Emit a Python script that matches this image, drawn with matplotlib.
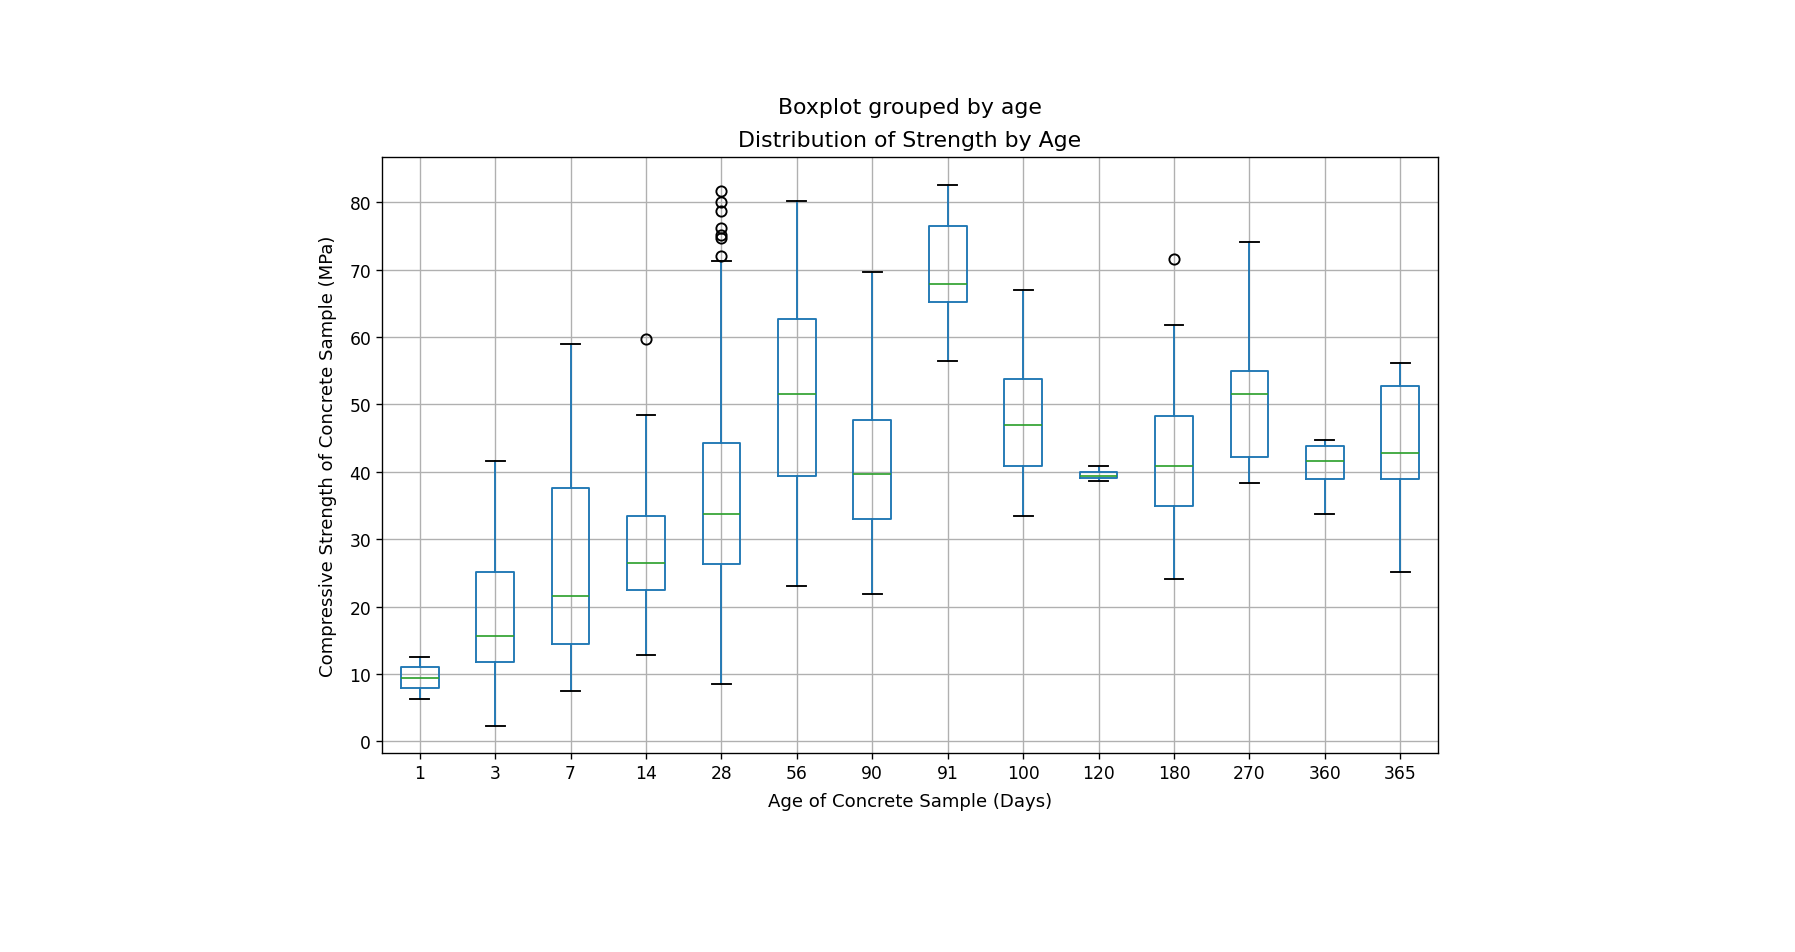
import matplotlib
matplotlib.use('Agg')
import matplotlib.pyplot as plt
import numpy as np

# scale factor so default sizes match the reference render
s = 1.23
plt.rcParams['font.size'] = 10 * s
plt.rcParams['lines.linewidth'] = 1.0 * s
plt.rcParams['axes.linewidth'] = 0.8 * s
plt.rcParams['grid.linewidth'] = 0.8 * s
plt.rcParams['xtick.major.size'] = 3.5 * s
plt.rcParams['ytick.major.size'] = 3.5 * s
plt.rcParams['xtick.major.width'] = 0.8 * s
plt.rcParams['ytick.major.width'] = 0.8 * s

ages = ['1', '3', '7', '14', '28', '56', '90', '91', '100', '120', '180', '270', '360', '365']
whislo = [6.3, 2.3, 7.5, 12.8, 8.5, 23.1, 21.8, 56.5, 33.5, 38.7, 24.1, 38.4, 33.7, 25.1]
q1 = [7.9, 11.8, 14.5, 22.4, 26.3, 39.4, 33.0, 65.2, 40.8, 39.1, 34.9, 42.2, 38.9, 38.9]
med = [9.4, 15.7, 21.6, 26.5, 33.7, 51.6, 39.6, 67.9, 46.9, 39.4, 40.8, 51.6, 41.6, 42.8]
q3 = [11.0, 25.1, 37.6, 33.5, 44.3, 62.6, 47.7, 76.5, 53.8, 39.9, 48.2, 54.9, 43.8, 52.7]
whishi = [12.6, 41.6, 59.0, 48.4, 71.2, 80.2, 69.6, 82.6, 66.9, 40.8, 61.8, 74.1, 44.7, 56.1]
fliers = [[], [], [], [59.7], [72.0, 74.7, 75.1, 76.1, 78.7, 80.0, 81.6],
          [], [], [], [], [], [71.6], [], [], []]

stats = []
for i in range(len(ages)):
    stats.append(dict(label=ages[i], whislo=whislo[i], q1=q1[i], med=med[i],
                      q3=q3[i], whishi=whishi[i], fliers=fliers[i]))

fig = plt.figure(figsize=(17.95, 9.53), dpi=100)
ax = fig.add_axes([0.2128, 0.2088, 0.8011 - 0.2128, 0.8337 - 0.2088])

lw = 1.35
ax.bxp(stats, widths=0.5,
       boxprops=dict(color='C0', linewidth=lw),
       whiskerprops=dict(color='C0', linewidth=lw),
       medianprops=dict(color='C2', linewidth=lw * 0.9),
       capprops=dict(color='k', linewidth=lw),
       flierprops=dict(marker='o', markersize=6 * s, markeredgecolor='k',
                       markerfacecolor='none', markeredgewidth=lw))
ax.grid(True)

ax.set_title('Distribution of Strength by Age', fontsize=15.8, pad=8.5)
fig.text(0.507, 0.887, 'Boxplot grouped by age', ha='center', va='center',
         fontsize=15.8)
ax.set_xlabel('Age of Concrete Sample (Days)', fontsize=13.1, labelpad=7)
ax.set_ylabel('Compressive Strength of Concrete Sample (MPa)', fontsize=13.1,
              labelpad=9)

fig.savefig('out.png', dpi=100)
